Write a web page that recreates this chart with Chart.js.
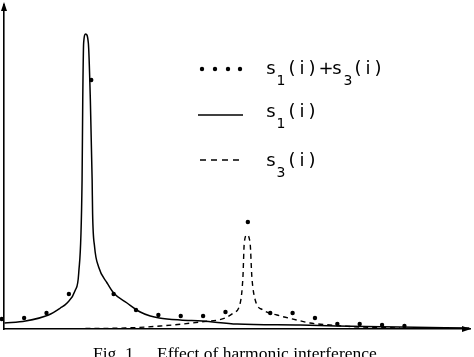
<!DOCTYPE html>
<html>
<head>
<meta charset="utf-8">
<script src="https://cdn.jsdelivr.net/npm/chart.js@4"></script>
<style>
html,body{margin:0;padding:0;background:#fff;overflow:hidden;}
#wrap{position:relative;width:474px;height:357px;}
</style>
</head>
<body>
<div id="wrap"><canvas id="c" width="474" height="357"></canvas></div>
<script>
// sample index (x) and amplitude (y, arbitrary units)
const sumX = [0,1,2,3,4,5,6,7,8,9,10,11,12,13,14,15,16,17,18];
const sumY = [10,11,16,35,249,35,19,14,13,13,17,107,16,16,11,5,5,4,3];

const s1X = [0.12,1.06,2.09,2.62,2.92,3.29,3.44,3.59,3.62,3.66,3.75,3.87,3.96,4.04,4.06,4.15,4.33,4.71,5.00,5.60,6.19,6.64,7.04,7.98,8.96,10.52,13.34,14.94,17.8,20.9];
const s1Y = [6,8,14,21,26,39,56,149,229,286,295,286,229,149,116,82,62,46,36,26,17,13,11,9,8,5,4,3,2,1];

const s3X = [3.74,5.52,7.09,8.87,9.99,10.35,10.66,10.78,10.84,10.96,11.10,11.18,11.33,11.68,12.30,13.19,13.78,14.67,16.0,17.8];
const s3Y = [0.5,1,3,7,11,16,26,52,86,94,86,52,29,19,14,9,6,4,2,1];

// legend label glyphs: [text, isSubscript]
const legendRows = [
  [['s',0],['1',1],['(',0],['i',0],[')',0],['+',0],['s',0],['3',1],['(',0],['i',0],[')',0]],
  [['s',0],['1',1],['(',0],['i',0],[')',0]],
  [['s',0],['3',1],['(',0],['i',0],[')',0]]
];
const captionLeft = 'Fig. 1';
const captionRight = 'Effect of harmonic interference';

const pts = (xs, ys) => xs.map((x, i) => ({x: x, y: ys[i]}));

const deco = {
  id: 'deco',
  afterDraw(chart) {
    const ctx = chart.ctx, a = chart.chartArea;
    ctx.save();
    ctx.fillStyle = '#000';
    ctx.strokeStyle = '#000';
    // x-axis arrow
    ctx.beginPath();
    ctx.moveTo(a.right + 1, a.bottom);
    ctx.lineTo(a.right - 8, a.bottom - 3);
    ctx.lineTo(a.right - 8, a.bottom + 3);
    ctx.closePath();
    ctx.fill();
    // y-axis arrow
    ctx.beginPath();
    ctx.moveTo(a.left, a.top - 3);
    ctx.lineTo(a.left - 3, a.top + 6);
    ctx.lineTo(a.left + 3, a.top + 6);
    ctx.closePath();
    ctx.fill();

    // legend samples
    const ly = [69, 115, 160];
    [202, 215, 228, 240].forEach(x => { ctx.beginPath(); ctx.arc(x, ly[0], 2.2, 0, Math.PI * 2); ctx.fill(); });
    ctx.lineWidth = 1.4;
    ctx.beginPath(); ctx.moveTo(198, ly[1]); ctx.lineTo(243, ly[1]); ctx.stroke();
    ctx.setLineDash([6, 5]);
    ctx.beginPath(); ctx.moveTo(200, ly[2]); ctx.lineTo(244, ly[2]); ctx.stroke();
    ctx.setLineDash([]);

    // legend text, glyph by glyph (plotter-like spacing)
    const base = [74, 117, 166];
    const centers = [
      [271, 281, 292, 302, 312, 326, 337, 348, 358, 368, 378],
      [271, 281, 292, 302, 312],
      [271, 281, 292, 302, 312]
    ];
    ctx.textBaseline = 'alphabetic';
    ctx.textAlign = 'center';
    legendRows.forEach((row, r) => {
      row.forEach(([t, sub], k) => {
        if (sub) {
          ctx.font = '14px "DejaVu Sans"';
          ctx.fillText(t, centers[r][k], base[r] + 11);
        } else {
          ctx.font = '18px "DejaVu Sans"';
          ctx.fillText(t, centers[r][k], base[r]);
        }
      });
    });

    // caption
    ctx.textAlign = 'left';
    ctx.font = '17.5px "Liberation Serif"';
    ctx.fillText(captionLeft, 93, 359);
    ctx.fillText(captionRight, 157, 359);
    ctx.restore();
  }
};

new Chart(document.getElementById('c'), {
  type: 'line',
  data: {
    datasets: [
      {label: 's1(i)+s3(i)', data: pts(sumX, sumY), showLine: false, pointRadius: 2.2, pointBackgroundColor: '#000', pointBorderWidth: 0, clip: false},
      {label: 's1(i)', data: pts(s1X, s1Y), borderColor: '#000', borderWidth: 1.5, pointRadius: 0, cubicInterpolationMode: 'monotone'},
      {label: 's3(i)', data: pts(s3X, s3Y), borderColor: '#000', borderWidth: 1.4, borderDash: [5, 4], pointRadius: 0, cubicInterpolationMode: 'monotone'}
    ]
  },
  options: {
    responsive: false,
    animation: false,
    devicePixelRatio: 1,
    layout: {padding: {left: 3.5, right: 4, top: 5, bottom: 28}},
    plugins: {legend: {display: false}, tooltip: {enabled: false}, title: {display: false}},
    scales: {
      x: {type: 'linear', min: 0.1, max: 20.93, grid: {display: false}, ticks: {display: false},
          border: {display: true, color: '#000', width: 1.6}, afterFit: s => { s.height = 0; }},
      y: {min: 0, max: 324, grid: {display: false}, ticks: {display: false},
          border: {display: true, color: '#000', width: 1.6}, afterFit: s => { s.width = 0; }}
    }
  },
  plugins: [deco]
});
</script>
</body>
</html>
